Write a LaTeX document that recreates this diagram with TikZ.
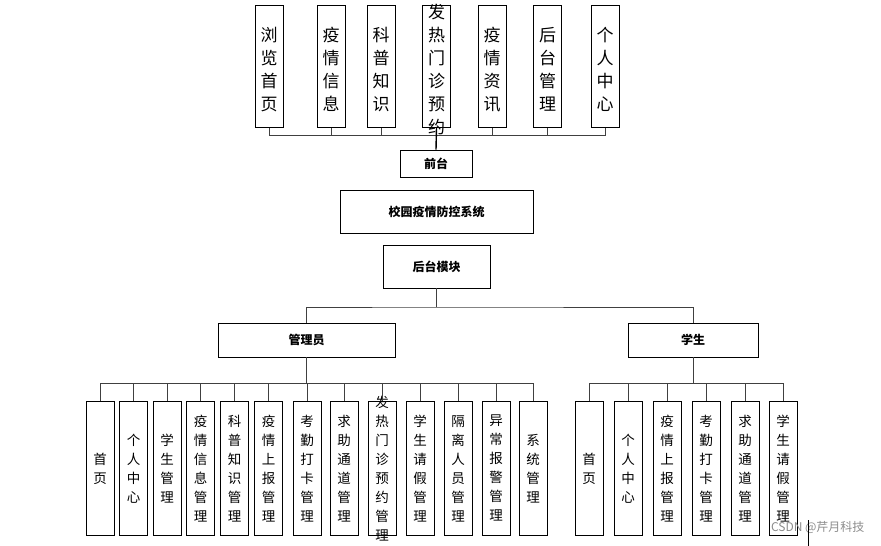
\documentclass[tikz,border=0pt]{standalone}
\usepackage{fontspec}
\newfontfamily\cjk{Noto Sans CJK SC}
\begin{document}
\begin{tikzpicture}[x=1pt,y=-1pt,
  vbox/.style={draw,line width=0.8pt,minimum width=28pt,anchor=north,inner sep=0pt,align=center},
  topf/.style={font=\cjk\fontsize{17}{23}\selectfont},
  botf/.style={font=\cjk\fontsize{13.5}{19}\selectfont},
  hbox/.style={draw,line width=0.8pt,inner sep=0pt,font=\cjk\bfseries\fontsize{12}{14}\selectfont},
  ln/.style={line width=0.8pt,draw=black!75}]
\useasboundingbox (0,0) rectangle (881,546);
% top
\foreach \n/\x/\t in {t1/269/浏\\览\\首\\页,t2/331/疫\\情\\信\\息,t3/381/科\\普\\知\\识,t4/436.5/发\\热\\门\\诊\\预\\约,t5/492/疫\\情\\资\\讯,t6/547.5/后\\台\\管\\理,t7/605/个\\人\\中\\心}
  {\node[vbox,minimum height=122pt] (\n) at (\x,5) {};
   \node[topf,align=center] at ([yshift=-3pt]\n.center) {\t};}
\node[hbox,minimum width=72pt,minimum height=27pt] (qt) at (436,163.5) {前台};
\node[hbox,minimum width=193pt,minimum height=43pt] (xy) at (436.5,211.5) {校园疫情防控系统};
\node[hbox,minimum width=107pt,minimum height=43pt] (hm) at (436.5,266.5) {后台模块};
\node[hbox,minimum width=177pt,minimum height=34pt] (gly) at (306.5,340) {管理员};
\node[hbox,minimum width=130pt,minimum height=34pt] (xs) at (693,340) {学生};
\foreach \n in {t1,t2,t3,t4,t5,t6,t7} \draw[ln] (\n.south) |- (436,135);
\draw[line width=1.4pt] (t4.south) -- (qt.north);
% middle
\coordinate (b2) at (436.5,307);
\draw[ln] (hm.south) -- (b2);
\draw[ln] (gly.north) |- (b2) -| (xs.north);
% admin
\foreach \n/\x/\t in {a1/100/首\\页,a2/133.5/个\\人\\中\\心,a3/167/学\\生\\管\\理,a4/200.5/疫\\情\\信\\息\\管\\理,a5/234.5/科\\普\\知\\识\\管\\理,a6/268.5/疫\\情\\上\\报\\管\\理,a7/307/考\\勤\\打\\卡\\管\\理,a8/344/求\\助\\通\\道\\管\\理,a9/382/发\\热\\门\\诊\\预\\约\\管\\理,a10/420/学\\生\\请\\假\\管\\理,a11/458/隔\\离\\人\\员\\管\\理,a12/496/异\\常\\报\\警\\管\\理,a13/533/系\\统\\管\\理}
  {\node[vbox,minimum height=134pt] (\n) at (\x,401) {};
   \node[botf,align=center] at (\n.center) {\t};
   \draw[ln] (\n.north) |- (gly.south |- 0,383);}
\draw[ln] (gly.south) -- (gly.south |- 0,383);
% student
\foreach \n/\x/\t in {s1/589/首\\页,s2/628/个\\人\\中\\心,s3/667/疫\\情\\上\\报\\管\\理,s4/706/考\\勤\\打\\卡\\管\\理,s5/745/求\\助\\通\\道\\管\\理,s6/783/学\\生\\请\\假\\管\\理}
  {\node[vbox,minimum height=134pt] (\n) at (\x,401) {};
   \node[botf,align=center] at (\n.center) {\t};
   \draw[ln] (\n.north) |- (xs.south |- 0,383);}
\draw[ln] (xs.south) -- (xs.south |- 0,383);
\node[font=\cjk\fontsize{12}{14}\selectfont,text=black!45,anchor=east] (wm) at (868,527) {CSDN @芹月科技};
\coordinate (w1) at (808,520); \coordinate (w2) at (808,546);
\draw[line width=1pt] (w1) -- (w2);
\end{tikzpicture}
\end{document}
